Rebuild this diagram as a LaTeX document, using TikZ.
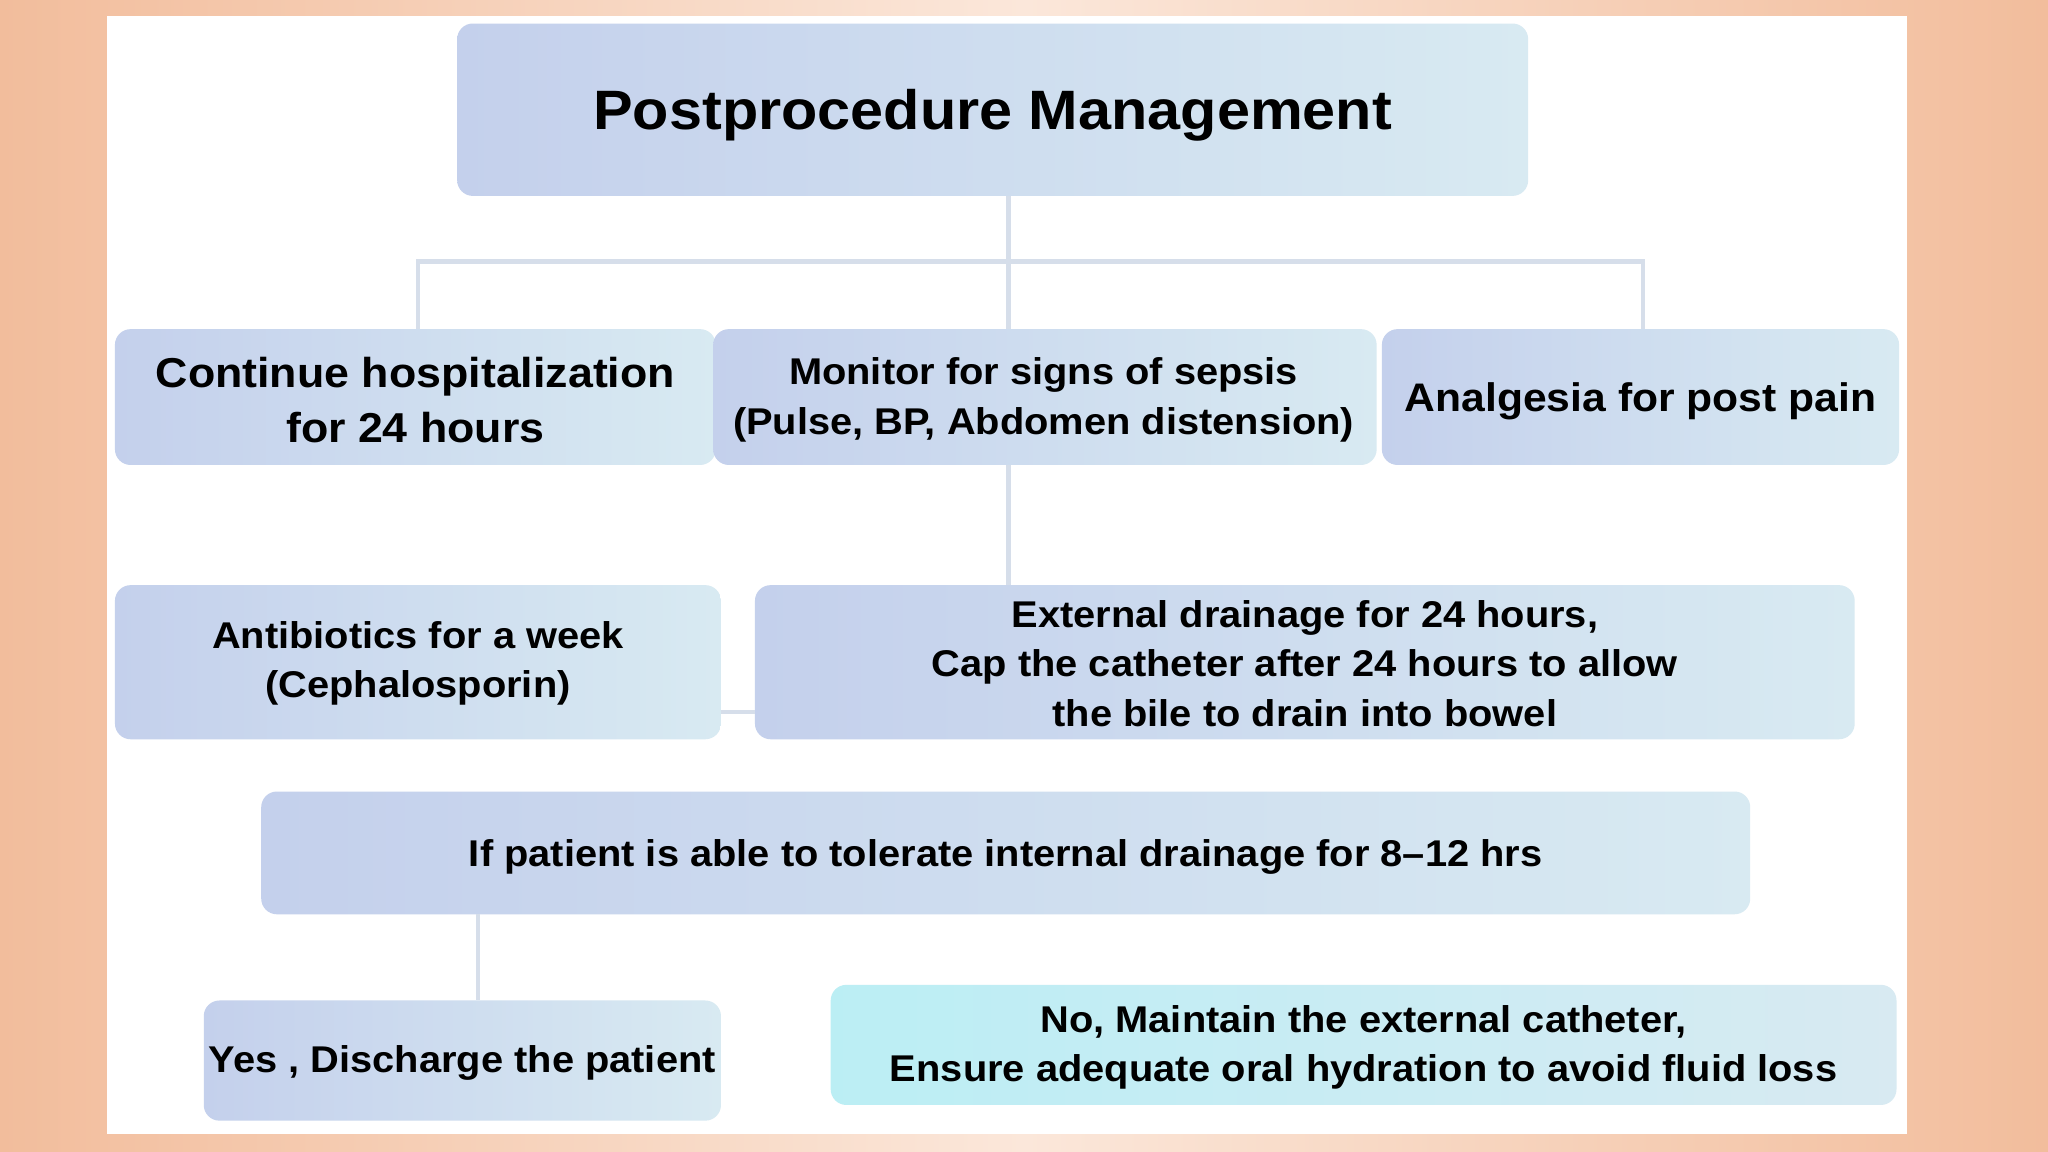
\documentclass[tikz,border=0pt]{standalone}
\usepackage{fontspec}
\setmainfont[FakeStretch=1.07]{Liberation Sans}
\begin{document}
\begin{tikzpicture}[x=1pt,y=-1pt,
  box/.style={rounded corners=12pt,left color=boxL,right color=boxR,draw=none},
  txt/.style={align=center,font=\bfseries\fontsize{28.5}{38}\selectfont,text=black},
  link/.style={draw=lineC,line width=3.5pt}]
\definecolor{boxL}{HTML}{C4D0EC}
\definecolor{boxR}{HTML}{D8EAF2}
\definecolor{lineC}{HTML}{D6DEEA}
\definecolor{peach}{HTML}{F2BD9C}
\definecolor{peachL}{HTML}{FBE7DA}
\useasboundingbox (0,0) rectangle (1568,882);
\shade[left color=peach,right color=peachL] (0,0) rectangle (784,882);
\shade[left color=peachL,right color=peach] (784,0) rectangle (1568,882);
\fill[white] (82,12) rectangle (1460,868);
% boxes
\shade[box] (350,18) rectangle (1170,150);
\node[font=\bfseries\fontsize{42.5}{48}\selectfont] (t) at (760,88) {Postprocedure Management};
\coordinate (tb) at (772,150);
\shade[box] (88,252) rectangle (548,356);
\node[txt,font=\bfseries\fontsize{32}{42}\selectfont] (a) at (318,306) {Continue hospitalization\\for 24 hours};
\shade[box] (546,252) rectangle (1054,356);
\node[txt] (b) at (799,306) {Monitor for signs of sepsis\\(Pulse, BP, Abdomen distension)};
\shade[box] (1058,252) rectangle (1454,356);
\node[txt,font=\bfseries\fontsize{30.5}{38}\selectfont] (c) at (1256,307) {Analgesia for post pain};
\shade[box] (88,448) rectangle (552,566);
\node[txt] (d) at (320,508) {Antibiotics for a week\\(Cephalosporin)};
\shade[box] (578,448) rectangle (1420,566);
\node[txt] (e) at (999,508) {External drainage for 24 hours,\\Cap the catheter after 24 hours to allow\\the bile to drain into bowel};
\shade[box] (200,606) rectangle (1340,700);
\node[txt] (f) at (770,656) {If patient is able to tolerate internal drainage for 8--12 hrs};
\shade[box] (156,766) rectangle (552,858);
\node[txt] (g) at (354,814) {Yes , Discharge the patient};
\shade[box,left color=boxR!85!cyan!95,right color=boxR] (636,754) rectangle (1452,846);
\node[txt] (h) at (1044,802) {No, Maintain the external catheter,\\Ensure adequate oral hydration to avoid fluid loss};
% connectors
\coordinate (j1) at (320,200); \coordinate (j2) at (1258,200);
\coordinate (aT) at (320,252); \coordinate (cT) at (1258,252);
\coordinate (bT) at (772,252); \coordinate (bB) at (772,356); \coordinate (eT) at (772,448);
\coordinate (dR) at (552,545); \coordinate (eL) at (578,545);
\coordinate (fB) at (366,700); \coordinate (gT) at (366,766);
\draw[link] (tb) -- (bT);
\draw[link] (aT) -- (j1) -- (j2) -- (cT);
\draw[link] (bB) -- (eT);
\draw[link] (dR) -- (eL);
\draw[link] (fB) -- (gT);
\end{tikzpicture}
\end{document}
